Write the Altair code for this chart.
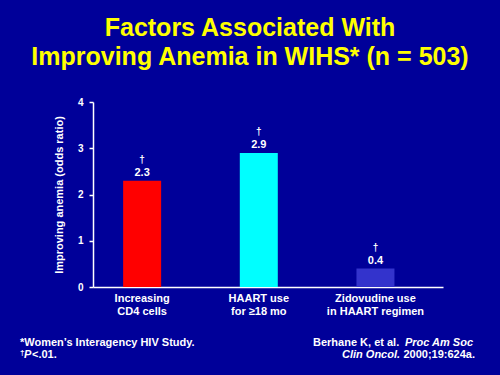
import altair as alt
import pandas as pd

categories = ["Increasing|CD4 cells", "HAART use|for \u226518 mo", "Zidovudine use|in HAART regimen"]
values = [2.3, 2.9, 0.4]
value_labels = ["2.3", "2.9", "0.4"]
marks = ["\u2020", "\u2020", "\u2020"]
colors = ["#FF0000", "#00FFFF", "#3333CC"]

title_lines = ["Factors Associated With", "Improving Anemia in WIHS* (n = 503)"]
y_title = "Improving anemia (odds ratio)"

FONT = "Liberation Sans, Arial, sans-serif"
BG = "#000099"
OFF = -9.2

df = pd.DataFrame({"cat": categories, "val": values, "lab": value_labels,
                   "mk": marks, "col": colors})

x = alt.X("cat:N", sort=categories, title=None,
          scale=alt.Scale(paddingInner=0, paddingOuter=0),
          axis=alt.Axis(labelExpr="split(datum.label, '|')", labelAngle=0,
                        labelColor="white", labelFont=FONT, labelFontSize=11,
                        labelFontWeight="bold", labelLineHeight=13,
                        labelBaseline="top", labelPadding=5, labelOffset=OFF,
                        ticks=False, domainColor="white", domainWidth=1.5))
y = alt.Y("val:Q", title=y_title,
          scale=alt.Scale(domain=[0, 4], nice=False),
          axis=alt.Axis(values=[0, 1, 2, 3, 4], format="d", grid=False,
                        labelColor="white", labelFont=FONT, labelFontSize=10,
                        labelFontWeight="bold", labelPadding=6,
                        tickColor="white", tickSize=4, tickWidth=1.5,
                        domainColor="white", domainWidth=1.5,
                        titleColor="white", titleFont=FONT, titleFontSize=11,
                        titleFontWeight="bold", titlePadding=13))

base = alt.Chart(df)
bars = base.mark_bar(size=38, xOffset=OFF).encode(
    x=x, y=y, color=alt.Color("col:N", scale=None))
vals = base.mark_text(xOffset=OFF, dy=-5, baseline="alphabetic", color="white",
                      font=FONT, fontSize=11, fontWeight="bold").encode(
    x=alt.X("cat:N", sort=categories), y="val:Q", text="lab:N")
dag = base.mark_text(xOffset=OFF, dy=-18, baseline="alphabetic", color="white",
                     font=FONT, fontSize=10, fontWeight="bold").encode(
    x=alt.X("cat:N", sort=categories), y="val:Q", text="mk:N")


def note(txt, px, py, align="left", size=11, color="white", style="normal", weight="bold", dy=0):
    return alt.Chart(pd.DataFrame({"t": [txt]})).mark_text(
        align=align, baseline="alphabetic", font=FONT, fontSize=size,
        fontWeight=weight, fontStyle=style, color=color, dy=dy
    ).encode(x=alt.value(px - 93), y=alt.value(py - 102), text="t:N")


notes = [
    note(title_lines[0], 250, 36, align="center", size=25, color="#FFFF00"),
    note(title_lines[1], 250, 65, align="center", size=25, color="#FFFF00"),
    note("*Women\u2019s Interagency HIV Study.", 20, 346),
    note("\u2020", 20, 358, size=8, dy=-3),
    note("P", 24, 358, style="italic"),
    note("<.01.", 32, 358),
    note("Berhane K, et al.", 313, 346),
    note("Proc Am Soc", 473, 346, align="right", style="italic"),
    note("Clin Oncol.", 342, 358, style="italic"),
    note("2000;19:624a.", 475, 358, align="right"),
]

chart = alt.layer(bars, vals, dag, *notes).properties(
    width=350, height=185,
    padding={"left": 93, "top": 102, "right": 57, "bottom": 88},
    autosize=alt.AutoSizeParams(type="none"),
    background=BG,
).configure_view(stroke=None)

chart.save("out.html", embed_options={"renderer": "svg", "actions": False})
